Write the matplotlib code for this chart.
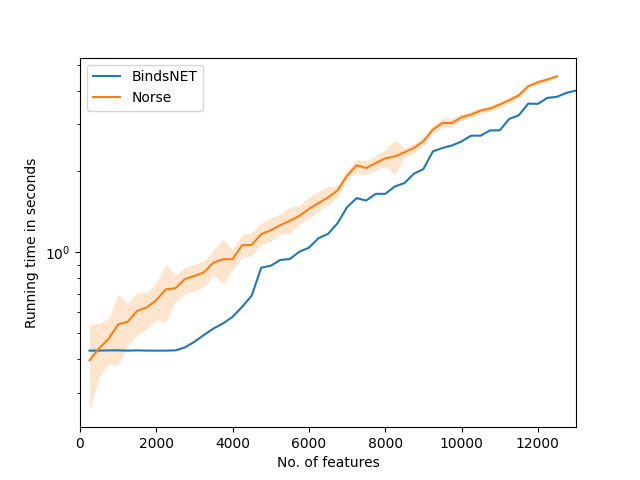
import numpy as np
import matplotlib
matplotlib.use("Agg")
import matplotlib.pyplot as plt

features_bindsnet = list(range(250, 13001, 250))
features_norse = list(range(250, 12501, 250))

bindsnet_time = [
    0.430, 0.430, 0.431, 0.431, 0.430, 0.431, 0.430, 0.430, 0.430, 0.431,
    0.442, 0.464, 0.492, 0.520, 0.543, 0.575, 0.626, 0.689, 0.876, 0.891,
    0.936, 0.944, 1.005, 1.040, 1.128, 1.171, 1.283, 1.472, 1.591, 1.559,
    1.651, 1.651, 1.758, 1.810, 1.961, 2.042, 2.376, 2.446, 2.500, 2.589,
    2.719, 2.719, 2.846, 2.846, 3.139, 3.238, 3.581, 3.572, 3.761, 3.794,
    3.926, 4.004,
]

norse_time = [
    0.396, 0.438, 0.476, 0.538, 0.551, 0.605, 0.623, 0.663, 0.727, 0.734,
    0.795, 0.816, 0.842, 0.915, 0.942, 0.942, 1.062, 1.065, 1.167, 1.208,
    1.262, 1.309, 1.366, 1.451, 1.524, 1.600, 1.699, 1.928, 2.107, 2.060,
    2.150, 2.237, 2.276, 2.355, 2.446, 2.589, 2.864, 3.033, 3.033, 3.183,
    3.258, 3.372, 3.430, 3.549, 3.684, 3.846, 4.156, 4.302, 4.402, 4.529,
]

norse_upper = [
    0.535, 0.543, 0.567, 0.697, 0.645, 0.709, 0.709, 0.766, 0.902, 0.823,
    0.879, 0.902, 0.928, 1.020, 1.118, 1.026, 1.160, 1.184, 1.283, 1.340,
    1.390, 1.472, 1.489, 1.613, 1.684, 1.758, 1.769, 2.017, 2.212, 2.193,
    2.289, 2.411, 2.611, 2.446, 2.538, 2.689, 2.989, 3.148, 3.167, 3.270,
    3.350, 3.460, 3.520, 3.640, 3.780, 3.940, 4.240, 4.380, 4.480, 4.600,
]

norse_lower = [
    0.2575, 0.343, 0.385, 0.379, 0.450, 0.491, 0.520, 0.559, 0.551, 0.654,
    0.699, 0.717, 0.744, 0.823, 0.761, 0.859, 0.958, 0.969, 1.071, 1.095,
    1.167, 1.178, 1.265, 1.340, 1.427, 1.502, 1.613, 1.862, 1.973, 1.944,
    2.030, 2.088, 1.944, 2.244, 2.343, 2.495, 2.782, 2.921, 2.931, 3.100,
    3.170, 3.290, 3.350, 3.470, 3.600, 3.760, 4.080, 4.230, 4.330, 4.460,
]

fig, ax = plt.subplots(figsize=(6.4, 4.8), dpi=100)
ax.plot(features_bindsnet, bindsnet_time, label="BindsNET")
ax.plot(features_norse, norse_time, label="Norse")
ax.fill_between(features_norse, norse_lower, norse_upper, color="C1", alpha=0.2, linewidth=0)
ax.set_yscale("log")
ax.set_xlim(0, 13000)
ax.set_xlabel("No. of features")
ax.set_ylabel("Running time in seconds")
ax.legend(loc="upper left")
fig.savefig("out.png")
